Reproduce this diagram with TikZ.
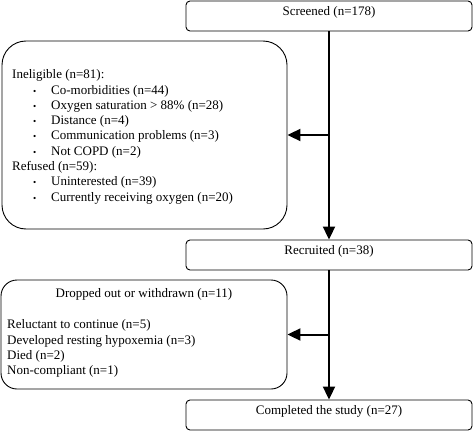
\documentclass[tikz,border=0pt]{standalone}
\usepackage{fontspec}
\setmainfont{Liberation Serif}
\usetikzlibrary{arrows.meta}
\begin{document}
\begin{tikzpicture}[x=1pt,y=-1pt,
  box/.style={draw,line width=0.9pt,rounded corners=4pt,inner sep=0pt},
  bigbox/.style={draw,line width=0.9pt,inner sep=0pt},
  txt/.style={inner sep=0pt,font=\fontsize{13}{15.3}\selectfont},
  flow/.style={line width=2pt,-{Triangle[length=13pt,width=12pt]}}]
\useasboundingbox (0,0) rectangle (474,431);
% boxes
\node[box,minimum width=286pt,minimum height=30pt] (scr) at (329,16) {};
\node[box,minimum width=286pt,minimum height=30pt] (rec) at (329,255) {};
\node[box,minimum width=286pt,minimum height=30pt] (com) at (329,415) {};
\node[bigbox,rounded corners=24pt,minimum width=285pt,minimum height=188pt] (inel) at (144.5,135) {};
\node[bigbox,rounded corners=16pt,minimum width=286pt,minimum height=109pt] (drop) at (144,334.5) {};
% labels
\node[txt] (scrt) at (329,12) {Screened (n=178)};
\node[txt] (rect) at (329,251) {Recruited (n=38)};
\node[txt] (comt) at (329,411) {Completed the study (n=27)};
\newcommand{\bul}{\makebox[21pt][l]{}\makebox[18pt][l]{\scalebox{0.7}{•}}}
\node[txt,anchor=north west,align=left] (inelt) at (12,69.5) {Ineligible (n=81):\\
\bul Co-morbidities (n=44)\\
\bul Oxygen saturation > 88\% (n=28)\\
\bul Distance (n=4)\\
\bul Communication problems (n=3)\\
\bul Not COPD (n=2)\\
Refused (n=59):\\
\bul Uninterested (n=39)\\
\bul Currently receiving oxygen (n=20)};
\node[txt] (dropt) at (144,294) {Dropped out or withdrawn (n=11)};
\node[txt,anchor=north west,align=left] (dropl) at (7,319.5) {Reluctant to continue (n=5)\\
Developed resting hypoxemia (n=3)\\
Died (n=2)\\
Non-compliant (n=1)};
% connectors
\coordinate (j1) at (scr.south |- inel.east);
\coordinate (j2) at (scr.south |- drop.east);
\draw[flow] (scr.south) -- (rec.north);
\draw[flow] (rec.south) -- (com.north);
\draw[flow] (j1) -- (inel.east);
\draw[flow] (j2) -- (drop.east);
\end{tikzpicture}
\end{document}
